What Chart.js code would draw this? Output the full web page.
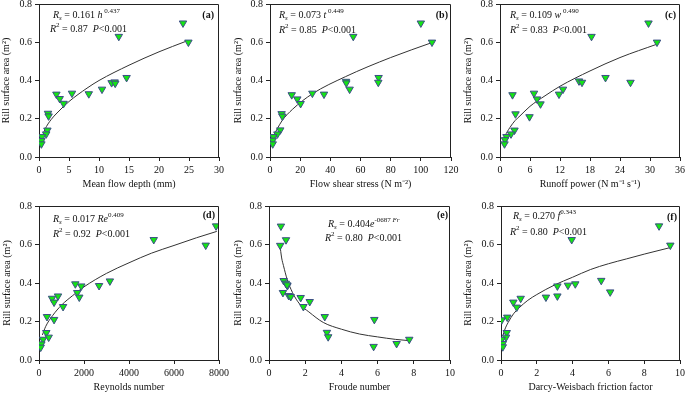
<!DOCTYPE html>
<html><head><meta charset="utf-8">
<script src="https://cdn.jsdelivr.net/npm/chart.js@4/dist/chart.umd.min.js"></script>
<style>
html,body{margin:0;padding:0;background:#fff;}
#fig{position:relative;width:685px;height:393px;overflow:hidden;background:#fff;}
canvas{position:absolute;}
</style></head><body><div id="fig"></div>
<script>
// ---------- data ----------
const rillTicks = [0, 0.2, 0.4, 0.6, 0.8];

const depthTicks = [0, 5, 10, 15, 20, 25, 30];
const depthX = [24.0, 24.9, 13.3, 14.6, 12.1, 12.6, 12.7, 10.5, 8.3, 5.5, 2.9, 3.45, 4.1, 1.5, 1.6, 1.4, 1.2, 0.5, 0.4, 0.4];
const depthY = [0.70, 0.60, 0.63, 0.415, 0.388, 0.392, 0.385, 0.354, 0.33, 0.333, 0.328, 0.305, 0.28, 0.228, 0.214, 0.14, 0.12, 0.106, 0.085, 0.068];
const depthFitX = [0.7, 1, 2, 3, 5, 8, 10, 15, 20, 24.5];
const depthFitY = [0.12, 0.145, 0.195, 0.23, 0.29, 0.36, 0.40, 0.48, 0.55, 0.605];

const shearTicks = [0, 20, 40, 60, 80, 100, 120];
const shearX = [100, 107.4, 55.2, 72, 71.8, 50.4, 50.6, 52.8, 35.8, 28.1, 14.4, 18.1, 20.3, 7.7, 8.2, 6.8, 4.9, 2.2, 1.8, 1.8];
const shearY = [0.70, 0.60, 0.63, 0.415, 0.39, 0.395, 0.387, 0.354, 0.328, 0.333, 0.325, 0.303, 0.279, 0.226, 0.213, 0.141, 0.12, 0.106, 0.087, 0.068];
const shearFitX = [1.5, 3, 5, 8, 15, 28, 50, 80, 108];
const shearFitY = [0.09, 0.12, 0.15, 0.19, 0.25, 0.33, 0.42, 0.52, 0.60];

const powerTicks = [0, 6, 12, 18, 24, 30, 36];
const powerX = [29.7, 31.4, 18.3, 21.1, 26.1, 15.8, 16.4, 12.6, 11.8, 6.8, 2.5, 7.4, 8.1, 3.1, 5.9, 2.9, 2.2, 1.3, 1.0, 0.9];
const powerY = [0.70, 0.60, 0.63, 0.415, 0.39, 0.397, 0.39, 0.354, 0.328, 0.333, 0.325, 0.303, 0.277, 0.225, 0.21, 0.14, 0.12, 0.106, 0.09, 0.068];
const powerFitX = [0.7, 1, 2, 3, 4, 6, 9, 12, 18, 24, 31.4];
const powerFitY = [0.09, 0.11, 0.155, 0.19, 0.215, 0.265, 0.32, 0.37, 0.45, 0.52, 0.59];

const reynoldsTicks = [0, 2000, 4000, 6000, 8000];
const reynoldsX = [7870, 7410, 5100, 3150, 2670, 1880, 1615, 1700, 1790, 845, 580, 670, 1070, 355, 670, 325, 430, 180, 105, 75];
const reynoldsY = [0.696, 0.596, 0.625, 0.41, 0.386, 0.384, 0.395, 0.35, 0.326, 0.332, 0.32, 0.30, 0.277, 0.225, 0.21, 0.142, 0.118, 0.107, 0.083, 0.066];
const reynoldsFitX = [150, 300, 600, 1000, 1500, 2000, 3000, 4000, 5000, 6000, 7000, 7900];
const reynoldsFitY = [0.13, 0.175, 0.23, 0.285, 0.335, 0.38, 0.45, 0.505, 0.555, 0.595, 0.635, 0.668];

const froudeTicks = [0, 2, 4, 6, 8, 10];
const froudeX = [0.66, 0.62, 0.94, 0.81, 0.93, 1.02, 1.0, 0.77, 1.09, 1.2, 1.75, 2.25, 1.9, 3.08, 3.2, 3.27, 5.82, 5.78, 7.05, 7.75];
const froudeY = [0.695, 0.595, 0.624, 0.412, 0.398, 0.386, 0.39, 0.35, 0.334, 0.329, 0.324, 0.303, 0.277, 0.225, 0.143, 0.12, 0.21, 0.07, 0.085, 0.107];
const froudeFitX = [0.6, 0.7, 0.8, 1.0, 1.3, 1.7, 2.2, 3, 4, 5, 6, 7, 7.8];
const froudeFitY = [0.60, 0.53, 0.49, 0.42, 0.35, 0.29, 0.25, 0.195, 0.16, 0.135, 0.12, 0.107, 0.10];

const frictionTicks = [0, 2, 4, 6, 8, 10];
const frictionX = [8.83, 9.46, 3.95, 5.6, 6.1, 4.15, 3.74, 3.15, 3.15, 2.51, 1.1, 0.69, 0.88, 0.35, 0.04, 0.32, 0.28, 0.04, 0.1, 0.1];
const frictionY = [0.696, 0.596, 0.625, 0.413, 0.353, 0.395, 0.388, 0.384, 0.332, 0.326, 0.32, 0.30, 0.274, 0.222, 0.208, 0.142, 0.118, 0.107, 0.085, 0.068];
const frictionFitX = [0.12, 0.2, 0.4, 0.7, 1, 1.5, 2, 3, 4, 5, 6, 7, 8, 9.5];
const frictionFitY = [0.13, 0.155, 0.195, 0.24, 0.27, 0.31, 0.34, 0.39, 0.43, 0.47, 0.50, 0.525, 0.55, 0.585];

// ---------- layout / styling ----------
const FONT = '"Liberation Serif", "Times New Roman", serif';
const panels = [
  {xs: depthX, ys: depthY, fx: depthFitX, fy: depthFitY, ticks: depthTicks, xTitle: 'Mean flow depth (mm)',
   area: {l: 39, r: 219, t: 4, b: 157}, yTitleX: 6, tag: '(a)', tagDx: -5, tagDy: 11,
   eq: [[14, 11, [['R','i'],['s','sub'],[' = 0.161 '],['h','i'],[' 0.437','sup']]],
        [11, 25, [['R','i'],['2','sup'],[' = 0.87  '],['P','i'],['<0.001']]]]},
  {xs: shearX, ys: shearY, fx: shearFitX, fy: shearFitY, ticks: shearTicks, xTitle: 'Flow shear stress (N m\u207B\u00B2)',
   area: {l: 270, r: 451, t: 4, b: 157}, yTitleX: 238, tag: '(b)', tagDx: -3, tagDy: 11,
   eq: [[9, 11, [['R','i'],['s','sub'],[' = 0.073 '],['t','i'],[' 0.449','sup']]],
        [9, 26, [['R','i'],['2','sup'],[' = 0.85  '],['P','i'],['<0.001']]]]},
  {xs: powerX, ys: powerY, fx: powerFitX, fy: powerFitY, ticks: powerTicks, xTitle: 'Runoff power (N m\u207B\u00B9 s\u207B\u00B9)',
   area: {l: 500, r: 680, t: 4, b: 157}, yTitleX: 468, tag: '(c)', tagDx: -4, tagDy: 11,
   eq: [[10, 11, [['R','i'],['s','sub'],[' = 0.109 '],['w','i'],[' 0.490','sup']]],
        [10, 26, [['R','i'],['2','sup'],[' = 0.83  '],['P','i'],['<0.001']]]]},
  {xs: reynoldsX, ys: reynoldsY, fx: reynoldsFitX, fy: reynoldsFitY, ticks: reynoldsTicks, xTitle: 'Reynolds number',
   area: {l: 39, r: 219, t: 206, b: 360}, yTitleX: 7, tag: '(d)', tagDx: -4, tagDy: 9,
   eq: [[14, 13, [['R','i'],['s','sub'],[' = 0.017 '],['Re','i'],['0.409','sup']]],
        [14, 28, [['R','i'],['2','sup'],[' = 0.92  '],['P','i'],['<0.001']]]]},
  {xs: froudeX, ys: froudeY, fx: froudeFitX, fy: froudeFitY, ticks: froudeTicks, xTitle: 'Froude number',
   area: {l: 269, r: 450, t: 206, b: 360}, yTitleX: 238, tag: '(e)', tagDx: -2, tagDy: 9,
   eq: [[59, 18, [['R','i'],['s','sub'],[' = 0.404'],['e','i'],['-0687 ','sup'],['Fr','supi']]],
        [56, 32, [['R','i'],['2','sup'],[' = 0.80  '],['P','i'],['<0.001']]]]},
  {xs: frictionX, ys: frictionY, fx: frictionFitX, fy: frictionFitY, ticks: frictionTicks, xTitle: 'Darcy-Weisbach friction factor',
   area: {l: 501, r: 680, t: 206, b: 360}, yTitleX: 468, tag: '(f)', tagDx: -3, tagDy: 11,
   eq: [[12, 10, [['R','i'],['s','sub'],[' = 0.270 '],['f','i'],['0.343','sup']]],
        [9, 26, [['R','i'],['2','sup'],[' = 0.80  '],['P','i'],['<0.001']]]]}
];

function drawRuns(ctx, x, y, runs) {
  ctx.textBaseline = 'middle';
  ctx.textAlign = 'left';
  for (const [t, st] of runs) {
    let size = 10, dy = 0, style = '';
    if (st === 'i') style = 'italic ';
    if (st === 'sub') { size = 7; dy = 3; style = 'italic '; }
    if (st === 'sup') { size = 7; dy = -4; }
    if (st === 'supi') { size = 7; dy = -4; style = 'italic '; }
    ctx.font = style + size + 'px ' + FONT;
    ctx.fillText(t, x, y + dy);
    x += ctx.measureText(t).width;
  }
}

const framePlugin = {
  id: 'frame',
  afterDraw(chart) {
    const p = chart.options.plugins.frame;
    const {ctx, chartArea: a} = chart;
    ctx.save();
    ctx.strokeStyle = '#222';
    ctx.lineWidth = 1;
    ctx.beginPath();
    const top = Math.round(a.top) + 0.5, right = Math.round(a.right) - 0.5;
    ctx.moveTo(a.left, top); ctx.lineTo(right, top); ctx.lineTo(right, a.bottom);
    ctx.stroke();
    ctx.fillStyle = '#111';
    for (const [dx, dy, runs] of p.eq) drawRuns(ctx, a.left + dx, a.top + dy, runs);
    ctx.font = 'bold 10px ' + FONT;
    ctx.textAlign = 'right';
    ctx.textBaseline = 'middle';
    ctx.fillText(p.tag, a.right + p.tagDx, a.top + p.tagDy);
    ctx.restore();
  }
};

const fig = document.getElementById('fig');
const TOPPAD = 10, RPAD = 16, XAX = 35;
panels.forEach(p => {
  const L = p.yTitleX - 8;
  const Y = p.area.l - L;
  const T = p.area.t - TOPPAD;
  const W = p.area.r - L + RPAD;
  const H = p.area.b - T + XAX;
  const c = document.createElement('canvas');
  c.width = W; c.height = H;
  c.style.left = L + 'px'; c.style.top = T + 'px';
  c.style.width = W + 'px'; c.style.height = H + 'px';
  fig.appendChild(c);
  const pts = p.xs.map((x, i) => ({x, y: p.ys[i]}));
  const fit = p.fx.map((x, i) => ({x, y: p.fy[i]}));
  const tickFont = {family: FONT, size: 10};
  new Chart(c, {
    type: 'scatter',
    data: {datasets: [
      {data: pts, pointStyle: 'triangle', rotation: 180, radius: 4.3,
       backgroundColor: '#14e414', borderColor: '#3d4f86', borderWidth: 1, order: 0},
      {data: fit, showLine: true, pointRadius: 0, borderColor: '#333', borderWidth: 1,
       cubicInterpolationMode: 'monotone', fill: false, order: 1}
    ]},
    options: {
      responsive: false, animation: false, devicePixelRatio: 1,
      layout: {padding: {left: 0, right: RPAD, top: TOPPAD, bottom: 0}},
      plugins: {legend: {display: false}, tooltip: {enabled: false},
        frame: {eq: p.eq, tag: p.tag, tagDx: p.tagDx, tagDy: p.tagDy}},
      scales: {
        x: {type: 'linear', min: p.ticks[0], max: p.ticks[p.ticks.length - 1],
            afterBuildTicks: s => { s.ticks = p.ticks.map(v => ({value: v})); },
            afterFit: s => { s.height = XAX; },
            grid: {display: true, drawOnChartArea: false, drawTicks: true, tickLength: 4, color: '#222'},
            border: {display: true, color: '#222', width: 1},
            ticks: {font: tickFont, color: '#111', padding: 3, maxRotation: 0, autoSkip: false, callback: v => String(v)},
            title: {display: true, text: p.xTitle, font: {family: FONT, size: 10}, color: '#111', padding: {top: 0, bottom: 2}}},
        y: {type: 'linear', min: 0, max: 0.8,
            afterBuildTicks: s => { s.ticks = rillTicks.map(v => ({value: v})); },
            afterFit: s => { s.width = Y; },
            grid: {display: true, drawOnChartArea: false, drawTicks: true, tickLength: 4, color: '#222'},
            border: {display: true, color: '#222', width: 1},
            ticks: {font: tickFont, color: '#111', padding: 3, callback: v => v.toFixed(1)},
            title: {display: true, text: 'Rill surface area (m\u00B2)', font: {family: FONT, size: 10}, color: '#111', padding: {top: 2, bottom: 0}}}
      }
    },
    plugins: [framePlugin]
  });
});
</script></body></html>
